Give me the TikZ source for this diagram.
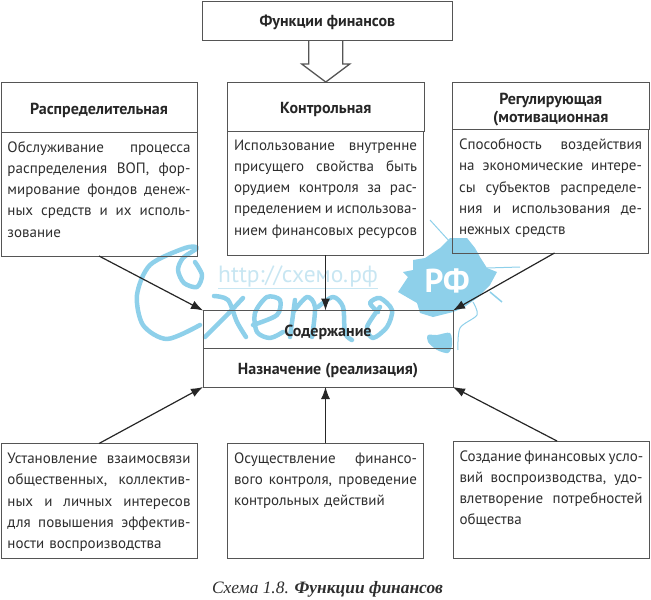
\documentclass[tikz,border=0pt]{standalone}
\usepackage{fontspec}
\setmainfont{PT Sans}
\newfontfamily\capfont{Liberation Serif}
\usetikzlibrary{calc, arrows.meta}
\definecolor{inkgray}{HTML}{2E2E2E}
\definecolor{edgegray}{HTML}{555555}
\definecolor{markblue}{HTML}{8ED0EA}
\definecolor{urlblue}{HTML}{C8E6F2}
\newcommand{\fl}[1]{\makebox[183pt][s]{\spaceskip=0pt\xspaceskip=0pt #1}\\}
\tikzstyle{field} = [rectangle, draw=edgegray, line width=1pt, outer sep=0pt, anchor=north west]
\tikzstyle{headfield} = [field, align=center, font=\fontsize{16}{18.5}\selectfont\bfseries, text=black!85, inner sep=0pt, text height=14pt, text depth=0pt]
\tikzstyle{bodyfield} = [field, align=left, font=\fontsize{15}{21.25}\selectfont, text=inkgray, text width=183pt, inner xsep=6.5pt, inner ysep=0pt, text height=20pt]
\tikzstyle{link} = [draw=black!85, line width=1.2pt, -{Latex[length=12pt,width=9pt]}]
\tikzstyle{script} = [draw=markblue, line width=4.5pt, line cap=round, line join=round]

\begin{document}
\begin{tikzpicture}[x=1pt, y=-1pt]
        \useasboundingbox (0,0) rectangle (651,600);

        % watermark
        \draw[script] plot[smooth] coordinates {(200,325) (167,339) (143,325) (137,295) (150,265) (185,248) (197,248) (183,258) (178,270) (184,283) (197,287) (202,275) (195,262)};
        \draw[script] plot[smooth] coordinates {(214,296) (228,300) (237,322) (246,337)};
        \draw[script] plot[smooth] coordinates {(243,298) (227,315) (205,337)};
        \draw[script] plot[smooth] coordinates {(253,325) (277,315) (280,300) (267,297) (255,313) (257,332) (270,338) (283,332)};
        \draw[script] plot[smooth] coordinates {(295,300) (290,337)};
        \draw[script] plot[smooth] coordinates {(293,312) (307,297) (315,307) (312,337)};
        \draw[script] plot[smooth] coordinates {(318,307) (333,297) (343,307) (345,333) (352,340)};
        \draw[script] plot[smooth] coordinates {(380,307) (367,327) (373,338) (387,327) (392,310) (380,298) (370,303) (378,312)};
        \fill[markblue] (398,292) -- (408,277) -- (403,272) -- (413,270) -- (413,260) -- (425,258) -- (440,248) -- (450,238) -- (467,238) -- (475,248) -- (480,257) -- (487,268) -- (497,272) -- (490,285) -- (477,298) -- (463,308) -- (453,312) -- (433,317) -- (420,313) -- (417,303) -- cycle;
        \fill[markblue] plot[smooth cycle, tension=0.5] coordinates {(428,335) (437,335) (450,333) (452,345) (448,353) (437,350) (428,342)};
        \draw[markblue, line width=1pt] (430,220) -- (450,242);
        \draw[markblue, line width=1pt] (487,268) -- (520,267);
        \draw[markblue, line width=1.5pt] (490,292) -- (502,302);
        \draw[markblue, line width=1pt] plot[smooth] coordinates {(473,302) (477,315) (460,328) (458,350)};
        \node (url) [anchor=base west, inner sep=0pt, text=urlblue, font=\fontsize{23.5}{23.5}\selectfont] at (218,282) {\underline{http://схемо.рф}};
        \node (mark) [inner sep=0pt, text=white, font=\fontsize{33}{33}\selectfont\bfseries] at (447,281) {РФ};

        % top
        \node (top) [headfield, text height=11pt, minimum width=250pt, minimum height=39pt] at (202.5,1) {Функции финансов};

        % functions
        \node (disthead) [headfield, minimum width=196pt, minimum height=50pt] at (1,82) {Распределительная};
        \node (ctrlhead) [headfield, minimum width=196.5pt, minimum height=49pt] at (227.5,82) {Контрольная};
        \node (reghead) [headfield, text height=34pt, minimum width=196.5pt, minimum height=47.5pt] at (452.5,82) {Регулирующая\\(мотивационная};

        \node (distbody) [bodyfield, text depth=104pt] at (1,132) {\fl{Обслуживание процесса}\fl{распределения ВОП, фор-}\fl{мирование фондов денеж-}\fl{ных средств и их исполь-}зование};
        \node (ctrlbody) [bodyfield, text height=19pt, text depth=105pt] at (227.5,131) {\fl{Использование внутренне}\fl{присущего свойства быть}\fl{орудием контроля за рас-}\fl{пределением и использова-}\fl{нием финансовых ресурсов}};
        \node (regbody) [bodyfield, text depth=103.5pt] at (452.5,129.5) {\fl{Способность воздействия}\fl{на экономические интере-}\fl{сы субъектов распределе-}\fl{ния и использования де-}нежных средств};

        % centre
        \node (content) [headfield, minimum width=250pt, minimum height=37.5pt] at (203,310.5) {Содержание};
        \node (purpose) [headfield, minimum width=250pt, minimum height=39pt] at (203,348) {Назначение (реализация)};

        % realisation
        \node (distreal) [bodyfield, text depth=95pt] at (1,443.5) {\fl{Установление взаимосвязи}\fl{общественных, коллектив-}\fl{ных и личных интересов}\fl{для повышения эффектив-}ности воспроизводства};
        \node (ctrlreal) [bodyfield, text depth=95.5pt] at (227.5,443) {\fl{Осуществление финансо-}\fl{вого контроля, проведение}контрольных действий};
        \node (regreal) [bodyfield, text depth=97pt] at (453,441) {\fl{Создание финансовых усло-}\fl{вий воспроизводства, удо-}\fl{влетворение потребностей}общества};

        \node (caption) [inner sep=0pt, text=inkgray, font=\capfont\fontsize{17.4}{17.4}\selectfont\itshape] at (327.5,589) {Схема 1.8. \textbf{Функции финансов}};

        % connectors
        \draw[draw=edgegray, line width=1.3pt, line join=miter] ([xshift=-17pt]ctrlhead.north |- top.south) -- ++(0,24) -- ++(-7,0) -- (ctrlhead.north) -- ++(24,-18) -- ++(-7,0) -- ([xshift=17pt]ctrlhead.north |- top.south);

        \draw[link] (distbody.south) -- (content.north west);
        \draw[link] (ctrlbody.south) -- (ctrlbody.south |- content.north);
        \draw[link] ([xshift=4pt]regbody.south) -- (content.north east);
        \draw[link] (distreal.north) -- (purpose.south west);
        \draw[link] (ctrlreal.north) -- (ctrlreal.north |- purpose.south);
        \draw[link] ([xshift=6pt]regreal.north) -- (purpose.south east);

\end{tikzpicture}
\end{document}
